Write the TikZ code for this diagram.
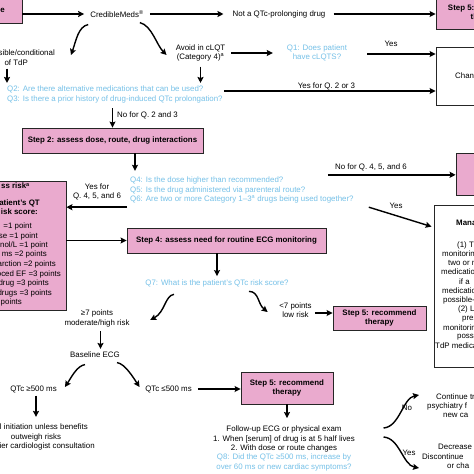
\documentclass[tikz,border=0pt]{standalone}
\usepackage{fontspec}
\setmainfont{Liberation Sans}
\usetikzlibrary{arrows.meta,calc}
\definecolor{boxpink}{RGB}{234,170,206}
\definecolor{qblue}{RGB}{118,193,232}
\begin{document}
\begin{tikzpicture}[x=1pt,y=-1pt,
  every node/.style={inner sep=0pt,align=center,font=\fontsize{7.9}{9.3}\selectfont},
  stepbox/.style={draw=black!85,fill=boxpink,line width=0.8pt,font=\fontsize{7.9}{9.3}\selectfont\bfseries},
  plainbox/.style={draw=black!85,fill=white,line width=0.8pt},
  qtext/.style={text=qblue},
  boldtext/.style={font=\fontsize{7.9}{9.3}\selectfont\bfseries},
  arr/.style={-{Stealth[length=6pt,width=6pt,inset=1pt]},line width=1.4pt}]
\fill[white] (0,0) rectangle (474,474);
\useasboundingbox (0,0) rectangle (474,474);

% ---- top row
\node[stepbox,minimum width=60pt,minimum height=40pt] (s1) at (-8,3) {};
\node[boldtext,anchor=east] (s1t) at (5,10) {e};
\node (cm) at (117,14) {CredibleMeds\textsuperscript{\textregistered}};
\node (notq) at (279,14) {Not a QTc-prolonging drug};
\node[stepbox,minimum width=98pt,minimum height=32pt] (s5a) at (485,13) {Step 5: recommend\\therapy};

\node[anchor=east] (poss1) at (55,53) {sible/conditional};
\node[anchor=east] (poss2) at (28,62.5) {of TdP};
\node (avoid) at (200.5,53) {Avoid in cLQT\\(Category 4)\textsuperscript{a}};
\node[qtext] (q1) at (317,53) {Q1: Does patient\\have cLQTS?};
\node[plainbox,minimum width=100pt,minimum height=58pt] (chg) at (486,76) {};
\node[anchor=west] (chgt) at (455,76) {Change};
\node (yes1) at (391,44) {Yes};
\node[qtext,anchor=west,align=left] (q23) at (7,94.5) {Q2: Are there alternative medications that can be used?\\Q3: Is there a prior history of drug-induced QTc prolongation?};
\node (yes23) at (326.5,86) {Yes for Q. 2 or 3};
\node[anchor=west] (no23) at (117,115) {No for Q. 2 and 3};
\node[stepbox,minimum width=181pt,minimum height=25pt] (s2) at (112.5,140.5) {Step 2: assess dose, route, drug interactions};

\node[qtext,anchor=west,align=left] (q46) at (130,190) {Q4: Is the dose higher than recommended?\\Q5: Is the drug administered via parenteral route?\\Q6: Are two or more Category 1--3\textsuperscript{a} drugs being used together?};
\node (yes46) at (97,192) {Yes for\\Q. 4, 5, and 6};
\node (no46) at (371,167) {No for Q. 4, 5, and 6};
\node[stepbox,minimum width=88pt,minimum height=42pt] (s5d) at (500,174) {};
\node (yesm) at (396,206) {Yes};

% ---- management box
\node[plainbox,minimum width=132pt,minimum height=162pt] (mg) at (500,286) {};
\node[boldtext,anchor=west] (mg0) at (456,224) {Manage};
\node[anchor=west] (mg1) at (457,245) {(1) T};
\node[anchor=west] (mg2) at (442,254) {monitoring};
\node[anchor=west] (mg3) at (448,263) {two or more};
\node[anchor=west] (mg4) at (441,272) {medications};
\node[anchor=west] (mg5) at (459,282) {if a};
\node[anchor=west] (mg6) at (442,291) {medications};
\node[anchor=west] (mg7) at (443,300) {possible-};
\node[anchor=west] (mg8) at (458,309) {(2) Le};
\node[anchor=west] (mg9) at (462,319) {pres};
\node[anchor=west] (mg10) at (443,328) {monitoring};
\node[anchor=west] (mg11) at (457,337) {poss-};
\node[anchor=west] (mg12) at (435,346) {TdP medications};

% ---- step 3 box
\node[stepbox,minimum width=126pt,minimum height=129pt] (s3) at (3,245.5) {};
\node[boldtext,anchor=east] (r0) at (30,186) {ss risk\textsuperscript{a}};
\node[boldtext,anchor=east] (r1) at (40,203) {atient's QT};
\node[boldtext,anchor=east] (r2) at (38,212) {isk score:};
\node[anchor=east] (r3) at (32,226) {=1 point};
\node[anchor=east] (r4) at (38,236) {se =1 point};
\node[anchor=east] (r5) at (48,245) {anol/L =1 point};
\node[anchor=east] (r6) at (47,254) {ms =2 points};
\node[anchor=east] (r7) at (56,264) {arction =2 points};
\node[anchor=east] (r8) at (61,274) {oced EF =3 points};
\node[anchor=east] (r9) at (49,283) {drug =3 points};
\node[anchor=east] (r10) at (52,293) {drugs =3 points};
\node[anchor=east] (r11) at (22,302) {points};

\node[stepbox,minimum width=199pt,minimum height=25pt] (s4) at (226.5,240.5) {Step 4: assess need for routine ECG monitoring};
\node[qtext] (q7) at (217,283) {Q7: What is the patient's QTc risk score?};
\node (hi) at (97,318.5) {≥7 points\\moderate/high risk};
\node (lo) at (295.5,310.5) {<7 points\\low risk};
\node[stepbox,minimum width=93pt,minimum height=24pt] (s5b) at (379.5,318) {Step 5: recommend\\therapy};
\node (base) at (95,355) {Baseline ECG};
\node (qge) at (33.5,389) {QTc ≥500 ms};
\node (qle) at (168.5,389) {QTc ≤500 ms};
\node[stepbox,minimum width=92pt,minimum height=32pt] (s5c) at (287,388) {Step 5: recommend\\therapy};
\node[anchor=east] (av1) at (88,427) {l initiation unless benefits};
\node (av2) at (36,437) {outweigh risks};
\node[anchor=east] (av3) at (95,446) {ier cardiologist consultation};
\node (fu) at (284,448.5) {Follow-up ECG or physical exam\\1. When [serum] of drug is at 5 half lives\\2. With dose or route changes\\\textcolor{qblue}{Q8: Did the QTc ≥500 ms, increase by}\\\textcolor{qblue}{over 60 ms or new cardiac symptoms?}};
\node (no8) at (407,408) {No};
\node (yes8) at (409,453) {Yes};
\node[anchor=west] (ct1) at (436,397) {Continue tr};
\node[anchor=west] (ct2) at (427,406) {psychiatry f};
\node[anchor=west] (ct3) at (443,415) {new ca};
\node[anchor=west] (dc1) at (438,447) {Decrease};
\node[anchor=west] (dc2) at (422,457) {Discontinue};
\node[anchor=west] (dc3) at (447,466) {or cha};

% ---- connectors
\draw[arr,shorten >=6pt] (s1.east |- cm.west) -- (cm.west);
\draw[arr,shorten <=6pt,shorten >=9pt] (cm.east) -- (notq.west);
\draw[arr,shorten <=8pt] (notq.east) -- (notq.east -| s5a.west);
\draw[arr] ($(cm.south west)+(-2,7)$) .. controls +(-10,2) and +(5,-14) .. ($(poss1.east)+(16,2)$);
\draw[arr] ($(cm.south east)+(-4,5)$) .. controls +(12,3) and +(-10,-10) .. ($(avoid.west)+(-9,2)$);
\draw[arr,shorten <=6pt,shorten >=14pt] (avoid.east) -- (avoid.east -| q1.west);
\coordinate (q1e) at ($(q1.east)+(20,1)$);
\draw[arr] (q1e) -- (q1e -| chg.west);
\draw[arr,shorten <=5pt,shorten >=3pt] (avoid.south) -- (avoid.south |- q23.north);
\draw[arr,shorten <=3pt,shorten >=3pt] (poss2.south -| q23.west) -- (q23.north west);
\coordinate (q23e) at ($(q23.east)+(1,-3.5)$);
\draw[arr] (q23e) -- (q23e -| chg.west);
\draw[arr,shorten <=5pt] (q23.south -| s2.north) -- (s2.north);
\coordinate (q46n) at ($(q46.north west)+(5,-6)$);
\draw[arr] (s2.south -| q46n) -- (q46n);
\coordinate (q46w) at ($(q46.south west)+(-3,4)$);
\draw[arr] (q46w) -- (q46w -| s3.east);
\coordinate (q46ne) at ($(q46.north east)+(-26,-2)$);
\draw[arr] (q46ne) -- (q46ne -| s5d.west);
\draw[arr] ($(q46.south east)+(15,4)$) -- ($(mg.north west)+(-2,22)$);
\draw[arr] (s3.east |- s4.west) -- (s4.west);
\draw[arr,shorten >=3pt] (s4.south -| q7.north) -- (q7.north);
\draw[arr] ($(q7.south)+(-43,7.5)$) .. controls +(-9,1) and +(15,-8) .. ($(hi.east)+(20.5,1.5)$);
\draw[arr] ($(q7.south)+(32,4.5)$) .. controls +(10,0) and +(-10,-8) .. ($(lo.west)+(-11.5,1.5)$);
\coordinate (loe) at ($(lo.east)+(3,2.5)$);
\draw[arr] (loe) -- (loe -| s5b.west);
\coordinate (his) at ($(hi.south)+(3.5,0)$);
\draw[arr,shorten <=4pt,shorten >=3pt] (his) -- (his |- base.north);
\draw[arr] ($(base.south)+(-10,6.5)$) .. controls +(-8,1) and +(6,-9) .. ($(qge.east)+(8,-2)$);
\draw[arr] ($(base.south)+(22,4.5)$) .. controls +(8,1) and +(-6,-9) .. ($(qle.west)+(-5.5,-2)$);
\draw[arr,shorten <=6pt] (qle.east) -- (qle.east -| s5c.west);
\draw[arr,shorten <=3pt,shorten >=7pt] (qge.south -| av2) -- (av2 |- av1.north);
\draw[arr,shorten >=8pt] (s5c.south) -- (s5c.south |- fu.north);
\draw[arr] ($(fu.east)+(28.5,-20.5)$) .. controls +(16,-1) and +(-16,3) .. ($(ct1.west)+(-17,-2)$);
\draw[arr] ($(fu.east)+(28.5,-11.5)$) .. controls +(16,1) and +(-16,-3) .. ($(dc3.west)+(-28,2)$);
\end{tikzpicture}
\end{document}
